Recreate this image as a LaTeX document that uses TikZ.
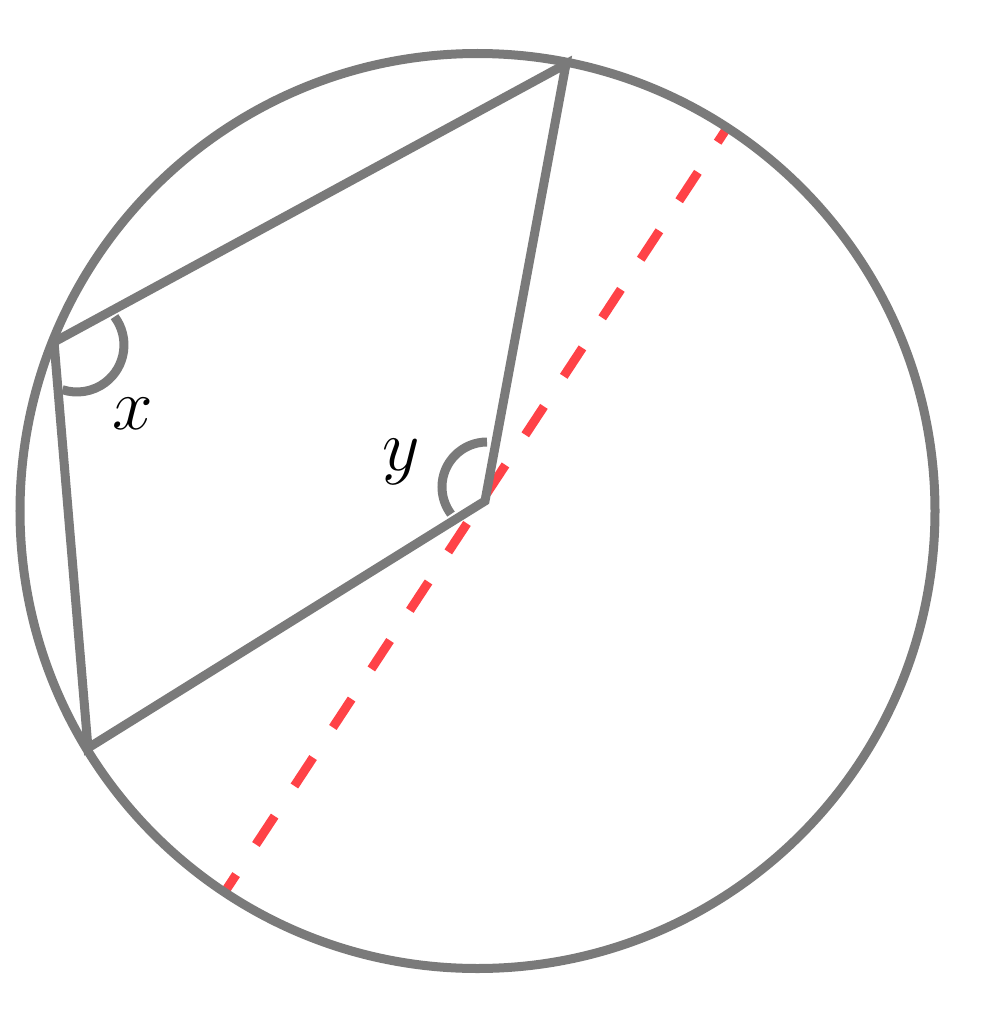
\documentclass[tikz,border=0pt]{standalone}
\definecolor{linegray}{RGB}{122,122,122}
\definecolor{dashred}{RGB}{255,66,71}
\tikzset{
  geo/.style={draw=linegray, line width=0.09cm},
  redline/.style={draw=dashred, line width=0.09cm, dash pattern=on 0.34cm off 0.36cm, dash phase=0.17cm},
  anglelabel/.style={font=\fontsize{20.5}{24}\selectfont, inner sep=0pt, anchor=base}
}
\begin{document}
\begin{tikzpicture}[x=0.01cm, y=-0.01cm]
\useasboundingbox (0,0) rectangle (982,1024);
\coordinate (C) at (477.5,511);
\coordinate (T) at (566,64);
\coordinate (L) at (54,342);
\coordinate (B) at (88,748);
\coordinate (O) at (485,501);
\coordinate (R1) at (727,128);
\coordinate (R2) at (226,890);
% red dashed diameter
\draw[redline] (R1) -- (R2);
% circle
\draw[geo] (C) circle [radius=457.5];
% quadrilateral
\draw[geo] (T) -- (L) -- (B) -- (O) -- cycle;
% angle arcs
\draw[geo] (114.5,316.7) arc [start angle=-37, end angle=108, radius=47];
\draw[geo] (487,442) arc [start angle=-90, end angle=-217, radius=45];
% labels
\node[anglelabel] (lx) at (133,429) {$x$};
\node[anglelabel] (ly) at (401,470) {$y$};
\end{tikzpicture}
\end{document}
